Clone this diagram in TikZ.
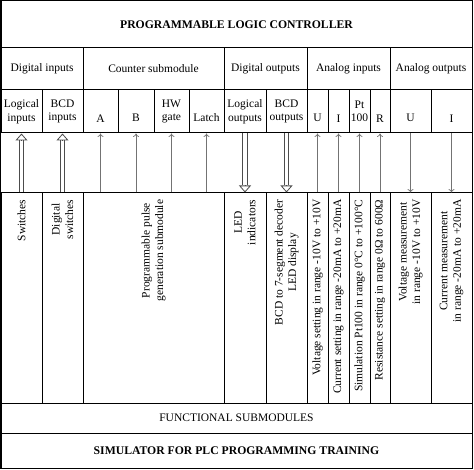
\documentclass[tikz,border=0pt]{standalone}
\usepackage{fontspec}
\setmainfont{Liberation Serif}
\usetikzlibrary{arrows.meta,calc}

% hollow double arrow: two lines and an open head
\newcommand{\dblarrow}[2]{%
  \draw[dblline] (#1) -- ($(#2)!7pt!(#1)$);
  \draw[dblhead] ($(#2)!7pt!(#1)$) -- (#2);}

\begin{document}
\begin{tikzpicture}[x=1pt,y=-1pt,
every node/.style={font=\fontsize{11.5}{13.5}\selectfont},
cell/.style={draw,rectangle,line width=1pt,inner sep=0pt,align=center},
titlebox/.style={cell,minimum width=471pt,font=\bfseries\fontsize{11.7}{14}\selectfont},
groupbox/.style={cell,minimum height=42pt},
subbox/.style={cell,minimum height=43pt},
colbox/.style={cell,minimum height=210pt},
vtext/.style={rotate=90,anchor=east,align=center,inner sep=0pt},
thinarrow/.style={draw=black!55,line width=0.7pt,-{To[length=3.5pt,width=6pt]}},
dblline/.style={draw=black!70,double,double distance=3.6pt,line width=0.9pt},
dblhead/.style={draw=black!70,line width=0.8pt,-{Triangle[open,length=7pt,width=12pt]}}]

\useasboundingbox (0,0) rectangle (474,470);

% controller
\node[titlebox,minimum height=47pt] (PLC) at (236.5,24.5) {PROGRAMMABLE LOGIC CONTROLLER};

\node[groupbox,minimum width=82pt] (DIG) at (42,69) {Digital inputs};
\node[groupbox,minimum width=141pt] (CNT) at (153.5,69) {Counter submodule};
\node[groupbox,minimum width=83pt] (DOUT) at (265.5,69) {Digital outputs};
\node[groupbox,minimum width=83pt] (AIN) at (348.5,69) {Analog inputs};
\node[groupbox,minimum width=82pt] (AOUT) at (431,69) {Analog outputs};

\node[subbox,minimum width=41pt] (LI) at (21.5,111.5) {Logical\\inputs};
\node[subbox,minimum width=41pt] (BI) at (62.5,111.5) {BCD\\inputs};
\node[subbox,minimum width=35pt] (CA) at (100.5,111.5) {\vphantom{Lg}\\A};
\node[subbox,minimum width=36pt] (CB) at (136,111.5) {\vphantom{Lg}\\B};
\node[subbox,minimum width=35pt] (HW) at (171.5,111.5) {HW\\gate};
\node[subbox,minimum width=35pt] (LA) at (206.5,111.5) {\vphantom{Lg}\\Latch};
\node[subbox,minimum width=42pt] (LO) at (245,111.5) {Logical\\outputs};
\node[subbox,minimum width=41pt] (BO) at (286.5,111.5) {BCD\\outputs};
\node[subbox,minimum width=21pt] (AU) at (317.5,111.5) {\vphantom{Lg}\\U};
\node[subbox,minimum width=21pt] (AI) at (338.5,111.5) {\vphantom{Lg}\\I};
\node[subbox,minimum width=21pt] (PT) at (359.5,111.5) {Pt\\100};
\node[subbox,minimum width=20pt] (AR) at (380,111.5) {\vphantom{Lg}\\R};
\node[subbox,minimum width=41pt] (OU) at (410.5,111.5) {\vphantom{Lg}\\U};
\node[subbox,minimum width=41pt] (OI) at (451.5,111.5) {\vphantom{Lg}\\I};

% functional submodules
\node[colbox,minimum width=41pt] (SW) at (21.5,298) {};
\node[colbox,minimum width=41pt] (DS) at (62.5,298) {};
\node[colbox,minimum width=141pt] (PG) at (153.5,298) {};
\node[colbox,minimum width=42pt] (LED) at (245,298) {};
\node[colbox,minimum width=41pt] (SEG) at (286.5,298) {};
\node[colbox,minimum width=21pt] (VS) at (317.5,298) {};
\node[colbox,minimum width=21pt] (CS) at (338.5,298) {};
\node[colbox,minimum width=21pt] (PS) at (359.5,298) {};
\node[colbox,minimum width=20pt] (RS) at (380,298) {};
\node[colbox,minimum width=41pt] (VM) at (410.5,298) {};
\node[colbox,minimum width=41pt] (CM) at (451.5,298) {};

\node[vtext] (SWt) at ([yshift=-7pt]SW.north) {Switches};
\node[vtext] (DSt) at ([yshift=-7pt]DS.north) {Digital\\switches};
\node[vtext] (PGt) at ([yshift=-7pt]PG.north) {Programmable pulse\\generation submodule};
\node[vtext] (LEDt) at ([yshift=-7pt]LED.north) {LED\\indicators};
\node[vtext] (SEGt) at ([yshift=-7pt]SEG.north) {BCD to 7-segment decoder\\LED display};
\node[vtext] (VSt) at ([yshift=-7pt]VS.north) {Voltage setting in range -10V to +10V};
\node[vtext] (CSt) at ([yshift=-7pt]CS.north) {Current setting in range -20mA to +20mA};
\node[vtext] (PSt) at ([yshift=-7pt]PS.north) {Simulation Pt100 in range 0°C to +100°C};
\node[vtext] (RSt) at ([yshift=-7pt]RS.north) {Resistance setting in range 0Ω to 600Ω};
\node[vtext] (VMt) at ([yshift=-7pt]VM.north) {Voltage measurement\\in range -10V to +10V};
\node[vtext] (CMt) at ([yshift=-7pt]CM.north) {Current measurement\\in range -20mA to +20mA};

\node[cell,minimum width=471pt,minimum height=30pt] (FUNC) at (236.5,418) {FUNCTIONAL SUBMODULES};
\node[titlebox,minimum height=35pt] (SIM) at (236.5,450.5) {SIMULATOR FOR PLC PROGRAMMING TRAINING};

\draw[line width=1.5pt] (PLC.north west) rectangle (SIM.south east);

% signals
\dblarrow{LI.south |- SW.north}{LI.south}
\dblarrow{BI.south |- DS.north}{BI.south}
\draw[thinarrow] (CA.south |- PG.north) -- (CA.south);
\draw[thinarrow] (CB.south |- PG.north) -- (CB.south);
\draw[thinarrow] (HW.south |- PG.north) -- (HW.south);
\draw[thinarrow] (LA.south |- PG.north) -- (LA.south);
\dblarrow{LO.south}{LO.south |- LED.north}
\dblarrow{BO.south}{BO.south |- SEG.north}
\draw[thinarrow] (AU.south |- VS.north) -- (AU.south);
\draw[thinarrow] (AI.south |- CS.north) -- (AI.south);
\draw[thinarrow] (PT.south |- PS.north) -- (PT.south);
\draw[thinarrow] (AR.south |- RS.north) -- (AR.south);
\draw[thinarrow] (OU.south) -- (OU.south |- VM.north);
\draw[thinarrow] (OI.south) -- (OI.south |- CM.north);

\end{tikzpicture}
\end{document}
